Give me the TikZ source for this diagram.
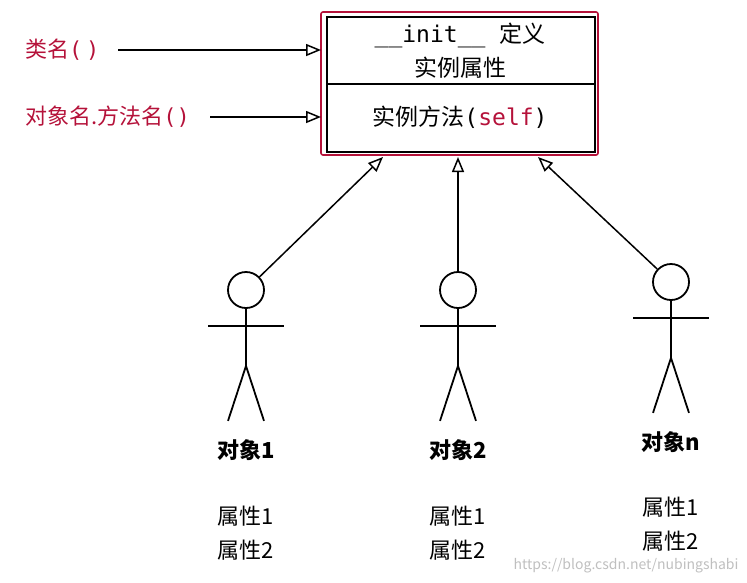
\documentclass[tikz,border=0pt]{standalone}
\usepackage{fontspec}
\setmainfont{Noto Sans CJK SC}
\setmonofont{DejaVu Sans Mono}
\usetikzlibrary{arrows.meta}
\definecolor{cred}{HTML}{B5123A}
\begin{document}
\begin{tikzpicture}[x=1pt,y=-1pt,
  tri/.style={-{Triangle[open,length=15pt,width=12pt]},line width=1.5pt},
  man/.style={line width=1.8pt},
  lbl/.style={font=\fontsize{22}{26}\selectfont},
  rlbl/.style={lbl,text=cred,anchor=west,inner sep=0pt},
  txt/.style={font=\fontsize{23}{27}\selectfont}]
\useasboundingbox (0,0) rectangle (747,582);
% class box
\draw[cred,line width=1.6pt,rounded corners=2pt] (321,12) rectangle (598,155);
\node[draw,line width=2.2pt,minimum width=268pt,minimum height=135pt,anchor=north west] (cls) at (326,16) {};
\draw[line width=2.2pt] (326,84) -- (594,84);
\node[txt] (t1) at (460,35) {\texttt{\_\_init\_\_\ }定义};
\node[txt] (t2) at (460,68) {实例属性};
\node[txt] (t3) at (460,117) {实例方法\texttt{(\textcolor{cred}{self})}};
% left labels
\node[rlbl] (l1) at (25,50) {类名\texttt{(\,)}};
\node[rlbl] (l2) at (25,117) {对象名.方法名\texttt{()}};
\coordinate (a1) at (321,50);
\coordinate (a2) at (321,117);
\draw[tri] (118,50) -- (a1);
\draw[tri] (210,117) -- (a2);
% figures
\foreach \n/\cx/\cy/\lab/\att in {1/246/290/对象1/516, 2/458/290/对象2/516, 3/671/282/对象n/507}{
  \node[draw,circle,man,minimum size=36pt,inner sep=0pt] (h\n) at (\cx,\cy) {};
  \draw[man] (h\n.south) -- ++(0,57) coordinate (hip\n);
  \draw[man] (\cx-38,\cy+36) -- (\cx+38,\cy+36);
  \draw[man] (hip\n) -- ++(-18,55) (hip\n) -- ++(18,55);
  \node[lbl,font=\fontsize{22}{26}\selectfont\bfseries] (n\n) at (\cx,\cy+160) {\lab};
  \node[lbl,align=center] (p\n) at (\cx,\att+17) {属性1\\[8pt]属性2};
}
\coordinate (e1) at (383,157);
\coordinate (e2) at (458,157);
\coordinate (e3) at (538,157);
\draw[tri] (h1) -- (e1);
\draw[tri] (h2) -- (e2);
\draw[tri] (h3) -- (e3);
\node[text=black!25,font=\fontsize{14}{16}\selectfont,anchor=east] (wm) at (742,566) {https://blog.csdn.net/nubingshabi};
\end{tikzpicture}
\end{document}
